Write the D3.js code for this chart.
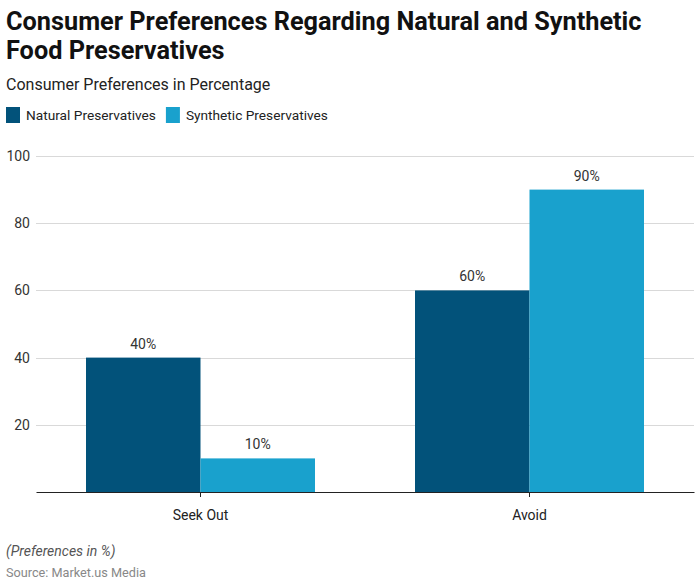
<!DOCTYPE html>
<html>
<head>
<meta charset="utf-8">
<script src="https://cdn.jsdelivr.net/npm/d3@7"></script>
<style>
  body { margin: 0; background: #fff; font-family: Roboto, "Noto Sans", sans-serif; }
</style>
</head>
<body>
<div id="chart"></div>
<script>
  // --- data
  const categories = ["Seek Out", "Avoid"];
  const seriesNames = ["Natural Preservatives", "Synthetic Preservatives"];
  const naturalValues = [40, 60];
  const syntheticValues = [10, 90];
  const yTicks = [20, 40, 60, 80, 100];
  const colors = ["#02527a", "#19a1cd"];

  const W = 700, H = 584;
  const margin = { top: 156, right: 6, bottom: 92, left: 36 };
  const width = W - margin.left - margin.right;
  const height = H - margin.top - margin.bottom;

  const svg = d3.select("#chart").append("svg").attr("width", W).attr("height", H);

  // title + subtitle
  svg.append("text").attr("x", 6).attr("y", 30)
    .style("font-size", "25.3px").style("font-weight", "700").attr("fill", "#111")
    .text("Consumer Preferences Regarding Natural and Synthetic");
  svg.append("text").attr("x", 6).attr("y", 59)
    .style("font-size", "25.3px").style("font-weight", "700").attr("fill", "#111")
    .text("Food Preservatives");
  svg.append("text").attr("x", 6).attr("y", 90)
    .style("font-size", "16px").attr("fill", "#222")
    .text("Consumer Preferences in Percentage");

  // legend
  let lx = 6;
  seriesNames.forEach((name, i) => {
    svg.append("rect").attr("x", lx).attr("y", 107).attr("width", 14).attr("height", 16).attr("fill", colors[i]);
    const t = svg.append("text").attr("x", lx + 20).attr("y", 120)
      .style("font-size", "13.7px").attr("fill", "#222").text(name);
    lx += 20 + t.node().getComputedTextLength() + 10;
  });

  const g = svg.append("g").attr("transform", `translate(${margin.left},${margin.top})`);

  const x0 = d3.scaleBand().domain(categories).range([0, width]).paddingInner(0.304).paddingOuter(0.152);
  const x1 = d3.scaleBand().domain(seriesNames).range([0, x0.bandwidth()]);
  const y = d3.scaleLinear().domain([0, 100]).range([height, 0]);

  // grid
  g.append("g").selectAll("line").data(yTicks).join("line")
    .attr("x1", 0).attr("x2", width)
    .attr("y1", d => Math.round(y(d)) + 0.5).attr("y2", d => Math.round(y(d)) + 0.5)
    .attr("stroke", "#d9d9d9").attr("stroke-width", 1);

  // y labels
  g.append("g").selectAll("text").data(yTicks).join("text")
    .attr("x", -6).attr("y", d => y(d)).attr("dy", "0.35em")
    .attr("text-anchor", "end").style("font-size", "14px").attr("fill", "#333")
    .text(d => d);

  // bars
  const rows = categories.map((c, i) => ({ cat: c, vals: [naturalValues[i], syntheticValues[i]] }));
  const grp = g.selectAll(".grp").data(rows).join("g")
    .attr("transform", d => `translate(${x0(d.cat)},0)`);
  grp.selectAll("rect").data(d => d.vals.map((v, i) => ({ name: seriesNames[i], v, i }))).join("rect")
    .attr("x", d => x1(d.name)).attr("width", x1.bandwidth())
    .attr("y", d => y(d.v)).attr("height", d => height - y(d.v))
    .attr("fill", d => colors[d.i]);
  grp.selectAll("text").data(d => d.vals.map((v, i) => ({ name: seriesNames[i], v, i }))).join("text")
    .attr("x", d => x1(d.name) + x1.bandwidth() / 2).attr("y", d => y(d.v) - 9)
    .attr("text-anchor", "middle").style("font-size", "14px").attr("fill", "#333")
    .text(d => d.v + "%");

  // x axis
  const xAxis = g.append("g").attr("transform", `translate(0,${height})`)
    .call(d3.axisBottom(x0).tickSize(5).tickSizeOuter(0));
  xAxis.select(".domain").attr("stroke", "#222");
  xAxis.selectAll(".tick line").attr("stroke", "#222");
  xAxis.selectAll("text").style("font-size", "14px").style("font-family", "Roboto, sans-serif")
    .attr("fill", "#222").attr("dy", "1.45em");

  // footnotes
  svg.append("text").attr("x", 6).attr("y", 556)
    .style("font-size", "14px").style("font-style", "italic").attr("fill", "#555")
    .text("(Preferences in %)");
  svg.append("text").attr("x", 6).attr("y", 577)
    .style("font-size", "12.7px").attr("fill", "#888")
    .text("Source: Market.us Media");
</script>
</body>
</html>
